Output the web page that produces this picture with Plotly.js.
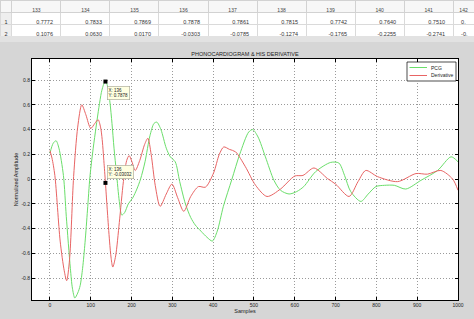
<!DOCTYPE html>
<html>
<head>
<meta charset="utf-8">
<script src="https://cdn.plot.ly/plotly-3.0.1.min.js"></script>
<style>
html,body{margin:0;padding:0;background:#d6d6d6;}
#chart{width:474px;height:319px;}
</style>
</head>
<body>
<div id="chart"></div>
<script>
// ---- data ----
const pcgSamples = [0,8,15,22,33,40,50,55,61,68,74,80,86,92,98,106,113,120,126,130,133,134,135,136,137,138,139,140,141,147,152,157,163,170,176,183,192,203,213,222,233,245,255,262,272,285,295,307,318,332,345,356,370,385,398,410,425,446,465,487,497,510,528,549,565,586,605,622,651,688,708,722,737,762,780,799,820,844,872,909,950,983,1000];
const pcgValues = [0.21,0.29,0.31,0.25,0.03,-0.3,-0.72,-0.88,-0.96,-0.92,-0.86,-0.72,-0.51,-0.25,0.02,0.25,0.42,0.58,0.70,0.75,0.7772,0.7833,0.7869,0.7878,0.7861,0.7815,0.7742,0.7640,0.7510,0.62,0.45,0.25,0.05,-0.18,-0.29,-0.27,-0.2,-0.15,-0.08,0.0,0.14,0.35,0.45,0.46,0.40,0.25,0.18,0.14,-0.02,-0.2,-0.31,-0.37,-0.42,-0.47,-0.50,-0.42,-0.22,0.0,0.2,0.38,0.40,0.34,0.18,-0.01,-0.09,-0.12,-0.10,-0.06,0.06,0.135,0.13,0.03,-0.10,-0.18,-0.12,-0.06,-0.05,-0.05,-0.08,-0.01,0.07,0.18,0.14];

const derSamples = [0,5,12,25,35,41,48,58,68,78,88,100,110,118,124,128,133,134,135,136,137,138,139,140,141,146,150,154,161,170,180,188,194,201,209,220,232,240,248,258,270,285,299,313,328,345,364,381,401,415,426,440,455,479,504,532,565,600,620,647,680,700,733,755,774,803,852,897,925,958,987,1000];
const derValues = [0.23,0.17,0.03,-0.5,-0.74,-0.82,-0.65,0.02,0.42,0.60,0.52,0.41,0.45,0.48,0.42,0.32,0.1076,0.0630,0.0170,-0.0303,-0.0785,-0.1274,-0.1765,-0.2255,-0.2741,-0.50,-0.64,-0.71,-0.62,-0.35,-0.02,0.15,0.19,0.14,0.07,0.15,0.28,0.33,0.2,-0.05,-0.22,-0.12,-0.04,-0.15,-0.26,-0.14,-0.06,-0.065,0.05,0.2,0.26,0.24,0.22,0.10,-0.05,-0.14,-0.08,0.025,0.03,0.09,0.005,-0.04,-0.14,-0.02,0.07,0.02,-0.02,0.045,0.04,0.07,0.0,-0.09];

const seriesNames = ["PCG", "Derivative"];
const seriesColors = ["#6ade6a", "#e86464"];

const tipX = [136, 136];
const tipY = [0.7878, -0.03032];
const tipText = ["X: 136<br>Y: 0.7878", "X: 136<br>Y: -0.03032"];

const tableHeader = ["", "133", "134", "135", "136", "137", "138", "139", "140", "141", "142"];
const tableRowLabels = ["1", "2"];
const tableRow1 = ["0.7772", "0.7833", "0.7869", "0.7878", "0.7861", "0.7815", "0.7742", "0.7640", "0.7510", "0."];
const tableRow2 = ["0.1076", "0.0630", "0.0170", "-0.0303", "-0.0785", "-0.1274", "-0.1765", "-0.2255", "-0.2741", "-0."];

const xTicks = [0,100,200,300,400,500,600,700,800,900,1000];
const yTicks = [-0.8,-0.6,-0.4,-0.2,0,0.2,0.4,0.6,0.8];
const yTickText = ["-0.8","-0.6","-0.4","-0.2","0","0.2","0.4","0.6","0.8"];

// ---- layout constants ----
const W = 474, H = 319;
const pL = 32, pR = 458, pT = 59, pB = 300;
const FONT = "Liberation Sans, Arial, sans-serif";
const px2x = v => v / W;
const py2y = v => 1 - v / H;

const tableCells = [tableRowLabels].concat(tableRow1.map((v, i) => [v, tableRow2[i]]));
const colW = [12].concat(new Array(9).fill(49.2)).concat([21]);
const cellAlign = ["center"].concat(new Array(9).fill("right")).concat(["left"]);
const cellFill = ["#eeeeee"].concat(new Array(10).fill("#ffffff"));

const traces = [
  {
    type: "scatter", mode: "lines", name: seriesNames[0],
    x: pcgSamples, y: pcgValues,
    line: {color: seriesColors[0], width: 1, shape: "spline", smoothing: 0.8}
  },
  {
    type: "scatter", mode: "lines", name: seriesNames[1],
    x: derSamples, y: derValues,
    line: {color: seriesColors[1], width: 1, shape: "spline", smoothing: 0.8}
  },
  {
    type: "scatter", mode: "markers", showlegend: false,
    x: tipX, y: tipY,
    marker: {symbol: "square", size: 4, color: "#000"},
    hoverinfo: "skip"
  },
  {
    type: "table",
    domain: {x: [0, 1], y: [1 - 36 / H, 1]},
    columnwidth: colW,
    header: {
      values: tableHeader, height: 12, align: "center",
      fill: {color: "#f7f7f7"}, line: {color: "#d2d2d2", width: 1},
      font: {family: FONT, size: 5, color: "#444"}
    },
    cells: {
      values: tableCells, height: 12, align: cellAlign,
      fill: {color: cellFill}, line: {color: "#dadada", width: 1},
      font: {family: FONT, size: 5.5, color: "#333"}
    }
  }
];

const axisCommon = {
  ticks: "inside", ticklen: 3, tickcolor: "#000", tickwidth: 1,
  showline: true, linecolor: "#000", linewidth: 1, mirror: "ticks",
  showgrid: true, gridcolor: "#9a9a9a", gridwidth: 1, griddash: "1px,2px",
  zeroline: false, automargin: false,
  tickfont: {family: FONT, size: 5, color: "#222"}
};

// manual MATLAB-style compact legend (box, line samples, labels)
const legBox = {x0: 407, x1: 456, y0: 62, y1: 81};
const legRows = [67.5, 75.5];
const legendShapes = [
  {type: "rect", xref: "paper", yref: "paper",
   x0: px2x(legBox.x0), x1: px2x(legBox.x1), y0: py2y(legBox.y1), y1: py2y(legBox.y0),
   fillcolor: "#ffffff", line: {color: "#000", width: 0.7}}
].concat(legRows.map((ry, i) => ({
  type: "line", xref: "paper", yref: "paper",
  x0: px2x(409.5), x1: px2x(427), y0: py2y(ry), y1: py2y(ry),
  line: {color: seriesColors[i], width: 1}
})));
const legendAnnots = legRows.map((ry, i) => ({
  xref: "paper", yref: "paper", x: px2x(428.5), y: py2y(ry),
  xanchor: "left", yanchor: "middle", showarrow: false,
  text: seriesNames[i], font: {family: FONT, size: 5, color: "#222"}
}));

const layout = {
  width: W, height: H,
  margin: {l: 0, r: 0, t: 0, b: 0},
  paper_bgcolor: "#d6d6d6",
  plot_bgcolor: "#ffffff",
  font: {family: FONT, color: "#222"},
  showlegend: false,
  title: {
    text: "PHONOCARDIOGRAM &amp; HIS DERIVATIVE",
    font: {family: FONT, size: 5.5, color: "#222"},
    x: (pL + pR) / 2 / W, xanchor: "center",
    y: 1 - 54 / H, yanchor: "middle"
  },
  xaxis: Object.assign({}, axisCommon, {
    domain: [pL / W, pR / W], range: [-44, 1000],
    tickvals: xTicks,
    title: {text: "Samples", font: {family: FONT, size: 5.5, color: "#222"}, standoff: 2}
  }),
  yaxis: Object.assign({}, axisCommon, {
    domain: [1 - pB / H, 1 - pT / H], range: [-0.976, 0.97],
    tickvals: yTicks, ticktext: yTickText,
    title: {text: "Normalized Amplitude", font: {family: FONT, size: 5.5, color: "#222"}, standoff: 2}
  }),
  annotations: tipX.map((x, i) => ({
    xref: "x", yref: "y", x: x, y: tipY[i],
    text: tipText[i], showarrow: false, align: "left",
    xanchor: "left", yanchor: i === 0 ? "top" : "bottom",
    xshift: 1.5, yshift: i === 0 ? -4 : 4,
    bgcolor: "#ffffe1", bordercolor: "#a0a090", borderwidth: 0.6, borderpad: 1,
    font: {family: FONT, size: 4.5, color: "#222"}
  })).concat(legendAnnots),
  shapes: [
    {type: "rect", xref: "paper", yref: "paper", x0: 0, x1: 1,
     y0: 1 - 42 / H, y1: 1 - 36 / H, fillcolor: "#e2e2e2", line: {width: 0}, layer: "below"}
  ].concat(legendShapes)
};

Plotly.newPlot("chart", traces, layout, {displayModeBar: false, staticPlot: true});
</script>
</body>
</html>
